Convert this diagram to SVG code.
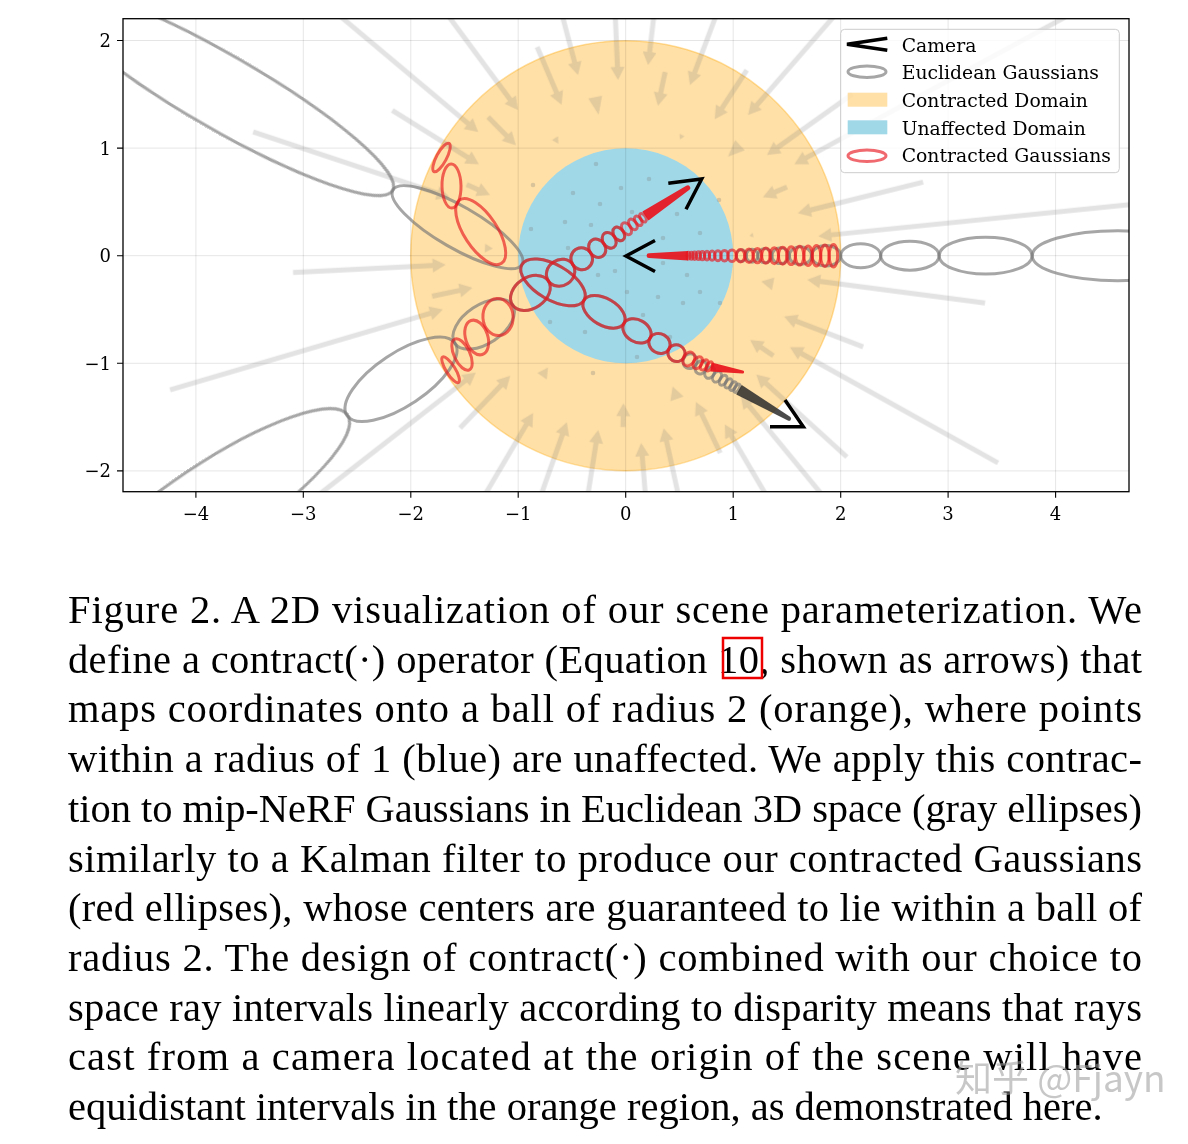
<svg xmlns="http://www.w3.org/2000/svg" width="1188" height="1144" viewBox="0 0 1188 1144">
<style>
.g{fill:none;stroke:#737373;stroke-opacity:.64;stroke-width:3}
.r{fill:none;stroke:#e8141c;stroke-opacity:.64;stroke-width:3}
.tk{font-family:"DejaVu Serif",serif;font-size:18px;fill:#000}
.lg{font-family:"DejaVu Serif",serif;font-size:18.8px;fill:#000}
.cap{font-family:"Liberation Serif","Times New Roman",serif;font-size:40.5px;fill:#000}
.grid line{stroke:#000;stroke-opacity:.1;stroke-width:1}
.cam{fill:none;stroke:#000;stroke-width:3.5;stroke-linejoin:miter}
.ar line{stroke:#808080;stroke-width:5;marker-end:url(#ah)}
</style>
<defs>
<clipPath id="ax"><rect x="123" y="18.7" width="1006" height="473"/></clipPath>
<marker id="ah" markerUnits="userSpaceOnUse" markerWidth="20" markerHeight="20" viewBox="0 -10 20 20" refX="5" refY="0" orient="auto" overflow="visible"><path d="M0,-7 L13,0 L0,7Z" fill="#808080"/></marker>
</defs>
<rect width="1188" height="1144" fill="#fff"/>
<g id="plot" clip-path="url(#ax)">
<g id="domains">
<circle cx="625.7" cy="255.7" r="215" fill="orange" fill-opacity=".35" stroke="orange" stroke-opacity=".35" stroke-width="1.5"/>
<circle cx="625.7" cy="255.7" r="107.5" fill="#A0D8E8"/>
</g>
<g class="grid">
<line x1="195.9" y1="18" x2="195.9" y2="492"/><line x1="303.3" y1="18" x2="303.3" y2="492"/><line x1="410.8" y1="18" x2="410.8" y2="492"/><line x1="518.2" y1="18" x2="518.2" y2="492"/><line x1="625.7" y1="18" x2="625.7" y2="492"/><line x1="733.2" y1="18" x2="733.2" y2="492"/><line x1="840.7" y1="18" x2="840.7" y2="492"/><line x1="948.1" y1="18" x2="948.1" y2="492"/><line x1="1055.6" y1="18" x2="1055.6" y2="492"/>
<line x1="123" y1="40.5" x2="1129" y2="40.5"/><line x1="123" y1="148.1" x2="1129" y2="148.1"/><line x1="123" y1="255.7" x2="1129" y2="255.7"/><line x1="123" y1="363.3" x2="1129" y2="363.3"/><line x1="123" y1="470.9" x2="1129" y2="470.9"/>
</g>
<g id="arrows" class="ar" transform="translate(625.7,255.7)" opacity="0.22" fill="#808080">
<line x1="516" y1="0" x2="200.6" y2="0" transform="rotate(-140)"/>
<line x1="342" y1="0" x2="189.2" y2="0" transform="rotate(-126.5)"/>
<line x1="226.8" y1="0" x2="172.1" y2="0" transform="rotate(-113)"/>
<line x1="411" y1="0" x2="194.9" y2="0" transform="rotate(-104.8)"/>
<line x1="295.5" y1="0" x2="183.9" y2="0" transform="rotate(-92.5)"/>
<line x1="502" y1="0" x2="200" y2="0" transform="rotate(-83.3)"/>
<line x1="354.5" y1="0" x2="190.4" y2="0" transform="rotate(-69.4)"/>
<line x1="187.9" y1="0" x2="161.5" y2="0" transform="rotate(-77.9)"/>
<line x1="195.4" y1="0" x2="163.9" y2="0" transform="rotate(-134.8)"/>
<line x1="221.6" y1="0" x2="170.9" y2="0" transform="rotate(-56.9)"/>
<line x1="404" y1="0" x2="194.4" y2="0" transform="rotate(-49)"/>
<line x1="278.5" y1="0" x2="181.5" y2="0" transform="rotate(-35.5)"/>
<line x1="275" y1="0" x2="181" y2="0" transform="rotate(-148.1)"/>
<line x1="500" y1="0" x2="199.9" y2="0" transform="rotate(-28.5)"/>
<line x1="392.7" y1="0" x2="193.6" y2="0" transform="rotate(-161.6)"/>
<line x1="333.1" y1="0" x2="188.3" y2="0" transform="rotate(177.1)"/>
<line x1="475" y1="0" x2="198.7" y2="0" transform="rotate(163.6)"/>
<line x1="462" y1="0" x2="198" y2="0" transform="rotate(142.1)"/>
<line x1="197.8" y1="0" x2="164.6" y2="0" transform="rotate(168.2)"/>
<line x1="174.3" y1="0" x2="156.7" y2="0" transform="rotate(-155.9)"/>
<line x1="239" y1="0" x2="174.6" y2="0" transform="rotate(133.9)"/>
<line x1="356.7" y1="0" x2="190.6" y2="0" transform="rotate(120.5)"/>
<line x1="300" y1="0" x2="184.5" y2="0" transform="rotate(109.5)"/>
<line x1="300" y1="0" x2="184.5" y2="0" transform="rotate(99)"/>
<line x1="171.3" y1="0" x2="155.5" y2="0" transform="rotate(90.9)"/>
<line x1="428" y1="0" x2="196" y2="0" transform="rotate(85.3)"/>
<line x1="300" y1="0" x2="184.5" y2="0" transform="rotate(77.6)"/>
<line x1="540" y1="0" x2="201.6" y2="0" transform="rotate(-5.8)"/>
<line x1="306.3" y1="0" x2="185.3" y2="0" transform="rotate(-13.9)"/>
<line x1="362.4" y1="0" x2="191.1" y2="0" transform="rotate(7.5)"/>
<line x1="254.3" y1="0" x2="177.6" y2="0" transform="rotate(21)"/>
<line x1="426" y1="0" x2="195.9" y2="0" transform="rotate(29.1)"/>
<line x1="299" y1="0" x2="184.4" y2="0" transform="rotate(42.3)"/>
<line x1="340" y1="0" x2="189" y2="0" transform="rotate(50.6)"/>
<line x1="600" y1="0" x2="203.7" y2="0" transform="rotate(59.6)"/>
<line x1="218.7" y1="0" x2="170.2" y2="0" transform="rotate(64.4)"/>
<line x1="175.3" y1="0" x2="157.1" y2="0" transform="rotate(-23.1)"/>
<line x1="178.3" y1="0" x2="158.2" y2="0" transform="rotate(34.1)"/>
<path d="M161.6,-7 L143.5,0 L161.6,7Z" transform="rotate(-100.9)"/>
<path d="M159,-7 L142.3,0 L159,7Z" transform="rotate(-44.1)"/>
<path d="M137.3,-3.6 L130.8,0 L137.3,3.6Z" transform="rotate(-121)"/>
<path d="M133.2,-2.8 L128.2,0 L133.2,2.8Z" transform="rotate(-65)"/>
<path d="M141,-4.4 L133,0 L141,4.4Z" transform="rotate(-176.9)"/>
<path d="M146.6,-5.7 L136.2,0 L146.6,5.7Z" transform="rotate(124.8)"/>
<path d="M129,-2.5 L125.4,0 L129,2.5Z" transform="rotate(-9.2)"/>
<path d="M150,-6.5 L138,0 L150,6.5Z" transform="rotate(10.8)"/>
<path d="M152,-7 L139,0 L152,7Z" transform="rotate(70.3)"/>
</g>
<g id="dots" fill="#808080" opacity="0.3">
<circle cx="593" cy="373" r="2.3"/><circle cx="533" cy="185" r="2.3"/>
<circle cx="596" cy="164" r="2.3"/><circle cx="573" cy="193" r="2.3"/><circle cx="621" cy="188" r="2.3"/><circle cx="649" cy="179" r="2.3"/><circle cx="600" cy="204" r="2.3"/><circle cx="565" cy="222" r="2.3"/><circle cx="591" cy="225" r="2.3"/><circle cx="531" cy="229" r="2.3"/><circle cx="632" cy="212" r="2.3"/><circle cx="663" cy="238" r="2.3"/><circle cx="677" cy="214" r="2.3"/><circle cx="700" cy="233" r="2.3"/><circle cx="719" cy="200" r="2.3"/><circle cx="568" cy="248" r="2.3"/><circle cx="627" cy="292" r="2.3"/><circle cx="598" cy="275" r="2.3"/><circle cx="615" cy="271" r="2.3"/><circle cx="550" cy="322" r="2.3"/><circle cx="585" cy="332" r="2.3"/><circle cx="643" cy="315" r="2.3"/><circle cx="658" cy="297" r="2.3"/><circle cx="683" cy="303" r="2.3"/><circle cx="720" cy="303" r="2.3"/><circle cx="637" cy="357" r="2.3"/><circle cx="687" cy="275" r="2.3"/><circle cx="670" cy="337" r="2.3"/><circle cx="663" cy="263" r="2.3"/><circle cx="700" cy="292" r="2.3"/>
</g>
<g id="euclidean-gaussians">
<ellipse class="g" cx="860.7" cy="255.7" rx="20" ry="12"/>
<ellipse class="g" cx="909.9" cy="255.7" rx="29.2" ry="14.5"/>
<ellipse class="g" cx="985.6" cy="255.7" rx="46.5" ry="18.4"/>
<ellipse class="g" cx="1117.9" cy="255.7" rx="85.7" ry="25"/>
<ellipse class="g" cx="826.1" cy="255.7" rx="14.6" ry="10.3"/>
<ellipse class="g" cx="800.4" cy="255.7" rx="11.1" ry="8.9"/>
<ellipse class="g" cx="780.6" cy="255.7" rx="8.7" ry="7.9"/>
<ellipse class="g" cx="764.9" cy="255.7" rx="7.05" ry="7.1"/>
<ellipse class="g" cx="752" cy="255.7" rx="5.8" ry="6.5"/>
<ellipse class="g" cx="741.3" cy="255.7" rx="4.9" ry="5.9"/>
<ellipse class="g" cx="210.3" cy="506.7" rx="165" ry="42" transform="rotate(-33.7 210.3 506.7)"/>
<ellipse class="g" cx="401" cy="379.3" rx="64.9" ry="26.3" transform="rotate(-33.7 401 379.3)"/>
<ellipse class="g" cx="483.7" cy="324.1" rx="34.6" ry="19.3" transform="rotate(-33.7 483.7 324.1)"/>
<ellipse class="g" cx="530.4" cy="292.9" rx="21.55" ry="15.4" transform="rotate(-33.7 530.4 292.9)"/>
<ellipse class="g" cx="560.6" cy="272.7" rx="14.7" ry="12.9" transform="rotate(-33.7 560.6 272.7)"/>
<ellipse class="g" cx="581.7" cy="258.7" rx="10.7" ry="11.1" transform="rotate(-33.7 581.7 258.7)"/>
<ellipse class="g" cx="597.2" cy="248.3" rx="8.1" ry="9.6" transform="rotate(-33.7 597.2 248.3)"/>
<ellipse class="g" cx="609.2" cy="240.3" rx="6.3" ry="8.4" transform="rotate(-33.7 609.2 240.3)"/>
<ellipse class="g" cx="618.8" cy="233.9" rx="5.1" ry="7.4" transform="rotate(-33.7 618.8 233.9)"/>
<ellipse class="g" cx="222" cy="92" rx="197" ry="37" transform="rotate(30 222 92)"/>
<ellipse class="g" cx="457.5" cy="227.2" rx="74.5" ry="21" transform="rotate(30 457.5 227.2)"/>
<ellipse class="g" cx="553" cy="282.4" rx="35.8" ry="17.5" transform="rotate(30 553 282.4)"/>
<ellipse class="g" cx="604" cy="311.8" rx="23.1" ry="13.4" transform="rotate(30 604 311.8)"/>
<ellipse class="g" cx="637" cy="330.9" rx="15" ry="11" transform="rotate(30 637 330.9)"/>
<ellipse class="g" cx="659.5" cy="343.4" rx="11" ry="9.6" transform="rotate(30 659.5 343.4)"/>
<ellipse class="g" cx="676.5" cy="353.2" rx="8.7" ry="8.3" transform="rotate(30 676.5 353.2)"/>
<ellipse class="g" cx="690" cy="361.2" rx="6.9" ry="7.5" transform="rotate(30 690 361.2)"/>
<ellipse class="g" cx="700.9" cy="367.4" rx="5.6" ry="6.8" transform="rotate(30 700.9 367.4)"/>
<ellipse class="g" cx="709.7" cy="372.5" rx="4.6" ry="6.2" transform="rotate(30 709.7 372.5)"/>
<ellipse class="g" cx="717" cy="376.7" rx="3.9" ry="5.8" transform="rotate(30 717 376.7)"/>
<ellipse class="g" cx="723.2" cy="380.3" rx="3.2" ry="5.4" transform="rotate(30 723.2 380.3)"/>
<ellipse class="g" cx="728.5" cy="383.4" rx="2.9" ry="5.1" transform="rotate(30 728.5 383.4)"/>
<ellipse class="g" cx="733.1" cy="386.1" rx="2.4" ry="4.8" transform="rotate(30 733.1 386.1)"/>
<ellipse class="g" cx="737" cy="388.3" rx="2.1" ry="4.6" transform="rotate(30 737 388.3)"/>
<path d="M741.75,385 L790.1,416.7 A2.2,2.2 0 0 1 787.9,420.5 L736.25,394.6 Z" fill="#2b2b2b" fill-opacity=".85"/>
</g>
<g id="contracted-gaussians">
<ellipse class="r" cx="833.4" cy="255.7" rx="4.2" ry="11.2"/>
<ellipse class="r" cx="824.9" cy="255.7" rx="4.2" ry="10.7"/>
<ellipse class="r" cx="816.5" cy="255.7" rx="4.2" ry="10.3"/>
<ellipse class="r" cx="808.1" cy="255.7" rx="4.2" ry="9.8"/>
<ellipse class="r" cx="799.6" cy="255.7" rx="4.2" ry="9.4"/>
<ellipse class="r" cx="791.2" cy="255.7" rx="4.2" ry="8.9"/>
<ellipse class="r" cx="782.7" cy="255.7" rx="4.2" ry="8.5"/>
<ellipse class="r" cx="774.3" cy="255.7" rx="4.2" ry="8"/>
<ellipse class="r" cx="765.9" cy="255.7" rx="4.2" ry="7.6"/>
<ellipse class="r" cx="757.4" cy="255.7" rx="4.2" ry="7.1"/>
<ellipse class="r" cx="749" cy="255.7" rx="4.2" ry="6.7"/>
<ellipse class="r" cx="740.5" cy="255.7" rx="4.2" ry="6.2"/>
<ellipse class="r" cx="732" cy="255.7" rx="4.1" ry="5.8"/>
<ellipse class="r" cx="724.5" cy="255.7" rx="3.56" ry="5.3"/>
<ellipse class="r" cx="717.9" cy="255.7" rx="3.1" ry="5"/>
<ellipse class="r" cx="712.1" cy="255.7" rx="2.7" ry="4.66"/>
<ellipse class="r" cx="707" cy="255.7" rx="2.4" ry="4.4"/>
<ellipse class="r" cx="702.4" cy="255.7" rx="2.15" ry="4.14"/>
<ellipse class="r" cx="698.4" cy="255.7" rx="1.9" ry="3.9"/>
<ellipse class="r" cx="694.6" cy="255.7" rx="1.7" ry="3.7"/>
<ellipse class="r" cx="691.4" cy="255.7" rx="1.6" ry="3.5"/>
<ellipse class="r" cx="688.4" cy="255.7" rx="1.4" ry="3.4"/>
<path d="M688,251 L649,253.3 A2.4,2.4 0 0 0 649,258.1 L688,260.4 Z" fill="#e8141c" fill-opacity=".92"/>
<ellipse class="r" cx="530.4" cy="292.9" rx="21.55" ry="15.4" transform="rotate(-33.7 530.4 292.9)"/>
<ellipse class="r" cx="560.6" cy="272.7" rx="14.7" ry="12.9" transform="rotate(-33.7 560.6 272.7)"/>
<ellipse class="r" cx="581.7" cy="258.7" rx="10.7" ry="11.1" transform="rotate(-33.7 581.7 258.7)"/>
<ellipse class="r" cx="597.2" cy="248.3" rx="8.1" ry="9.6" transform="rotate(-33.7 597.2 248.3)"/>
<ellipse class="r" cx="609.2" cy="240.3" rx="6.3" ry="8.4" transform="rotate(-33.7 609.2 240.3)"/>
<ellipse class="r" cx="618.8" cy="233.9" rx="5.1" ry="7.4" transform="rotate(-33.7 618.8 233.9)"/>
<ellipse class="r" cx="626.5" cy="228.7" rx="4.2" ry="6.6" transform="rotate(-33.7 626.5 228.7)"/>
<ellipse class="r" cx="632.9" cy="224.4" rx="3.5" ry="5.9" transform="rotate(-33.7 632.9 224.4)"/>
<ellipse class="r" cx="638.3" cy="220.8" rx="3" ry="5.3" transform="rotate(-33.7 638.3 220.8)"/>
<ellipse class="r" cx="643" cy="217.7" rx="2.6" ry="4.8" transform="rotate(-33.7 643 217.7)"/>
<path d="M642.4,211.4 L686.3,185.8 A2.5,2.5 0 0 1 689.1,190 L648.5,220.6 Z" fill="#e8141c" fill-opacity=".92"/>
<ellipse class="r" cx="498" cy="317" rx="15.1" ry="18.5" transform="rotate(-3.7 498 317)"/>
<ellipse class="r" cx="476.7" cy="337.5" rx="17.9" ry="11.1" transform="rotate(71.7 476.7 337.5)"/>
<ellipse class="r" cx="462" cy="354.5" rx="17" ry="7.9" transform="rotate(64.6 462 354.5)"/>
<ellipse class="r" cx="450.6" cy="369.7" rx="15" ry="4.5" transform="rotate(58 450.6 369.7)"/>
<ellipse class="r" cx="553" cy="282.4" rx="35.8" ry="17.5" transform="rotate(30 553 282.4)"/>
<ellipse class="r" cx="604" cy="311.8" rx="23.1" ry="13.4" transform="rotate(30 604 311.8)"/>
<ellipse class="r" cx="637" cy="330.9" rx="15" ry="11" transform="rotate(30 637 330.9)"/>
<ellipse class="r" cx="659.5" cy="343.4" rx="11" ry="9.6" transform="rotate(30 659.5 343.4)"/>
<ellipse class="r" cx="676.5" cy="353.2" rx="8.7" ry="8.3" transform="rotate(30 676.5 353.2)"/>
<ellipse class="r" cx="688.8" cy="359" rx="5.6" ry="7.3" transform="rotate(30 688.8 359)"/>
<ellipse class="r" cx="697.8" cy="362.7" rx="4.2" ry="6.4" transform="rotate(30 697.8 362.7)"/>
<ellipse class="r" cx="704.3" cy="364.9" rx="3.2" ry="5.6" transform="rotate(30 704.3 364.9)"/>
<ellipse class="r" cx="709.3" cy="366.4" rx="2.6" ry="5" transform="rotate(30 709.3 366.4)"/>
<path d="M711.7,362.6 L742.8,370.5 A1.5,1.5 0 0 1 742.4,373.5 L710.3,371.4 Z" fill="#e8141c" fill-opacity=".92"/>
<ellipse class="r" cx="480.7" cy="231.6" rx="38" ry="16.5" transform="rotate(56.7 480.7 231.6)"/>
<ellipse class="r" cx="451.5" cy="186" rx="22.1" ry="9.5" transform="rotate(89 451.5 186)"/>
<ellipse class="r" cx="441.5" cy="157.5" rx="16" ry="5" transform="rotate(-62 441.5 157.5)"/>
</g>
<g id="cameras" class="cam">
<polyline points="655,240.5 626,256 655,271.5"/>
<polyline points="668.3,183.3 701.7,179 686,209.3"/>
<polyline points="770,426.7 803.3,426.7 785,400"/>
</g>
</g>
<g id="axes" fill="none" stroke="#000">
<rect x="123" y="18.7" width="1006" height="473" stroke-width="1.3"/>
<path stroke-width="1.1" d="M195.9,491.7v6M303.3,491.7v6M410.8,491.7v6M518.2,491.7v6M625.7,491.7v6M733.2,491.7v6M840.7,491.7v6M948.1,491.7v6M1055.6,491.7v6M123,40.5h-6M123,148.1h-6M123,255.7h-6M123,363.3h-6M123,470.9h-6"/>
</g>
<g id="ticklabels" class="tk">
<text x="111" y="47" text-anchor="end">2</text>
<text x="111" y="154.6" text-anchor="end">1</text>
<text x="111" y="262.2" text-anchor="end">0</text>
<text x="111" y="369.8" text-anchor="end">−1</text>
<text x="111" y="477.4" text-anchor="end">−2</text>
<g text-anchor="middle">
<text x="195.9" y="520">−4</text><text x="303.3" y="520">−3</text><text x="410.8" y="520">−2</text><text x="518.2" y="520">−1</text><text x="625.7" y="520">0</text><text x="733.2" y="520">1</text><text x="840.7" y="520">2</text><text x="948.1" y="520">3</text><text x="1055.6" y="520">4</text>
</g>
</g>
<g id="legend">
<rect x="840.7" y="29.3" width="278.6" height="143.4" rx="4" fill="#fff" fill-opacity=".8" stroke="#ccc" stroke-width="1"/>
<polyline class="cam" points="887.3,38.3 847,44.3 887.3,50.3"/>
<ellipse class="g" cx="867" cy="71.7" rx="19" ry="5.75"/>
<rect x="847.7" y="92.7" width="39.6" height="14" fill="orange" fill-opacity=".35"/>
<rect x="847.7" y="120.3" width="39.6" height="14" fill="#A0D8E8"/>
<ellipse class="r" cx="867" cy="155.8" rx="19" ry="5.75"/>
<g class="lg">
<text x="901.7" y="51.5">Camera</text>
<text x="901.7" y="79.3">Euclidean Gaussians</text>
<text x="901.7" y="106.9">Contracted Domain</text>
<text x="901.7" y="134.5">Unaffected Domain</text>
<text x="901.7" y="162.2">Contracted Gaussians</text>
</g>
</g>
<g id="caption" class="cap">
<text x="68" y="623" textLength="1074" lengthAdjust="spacing">Figure 2.  A 2D visualization of our scene parameterization.  We</text>
<text x="68" y="672.7" textLength="1074" lengthAdjust="spacing">define a contract(·) operator (Equation 10, shown as arrows) that</text>
<text x="68" y="722.4" textLength="1074" lengthAdjust="spacing">maps coordinates onto a ball of radius 2 (orange), where points</text>
<text x="68" y="772.1" textLength="1074" lengthAdjust="spacing">within a radius of 1 (blue) are unaffected.  We apply this contrac-</text>
<text x="68" y="821.8" textLength="1074" lengthAdjust="spacing">tion to mip-NeRF Gaussians in Euclidean 3D space (gray ellipses)</text>
<text x="68" y="871.5" textLength="1074" lengthAdjust="spacing">similarly to a Kalman filter to produce our contracted Gaussians</text>
<text x="68" y="921.2" textLength="1074" lengthAdjust="spacing">(red ellipses), whose centers are guaranteed to lie within a ball of</text>
<text x="68" y="970.9" textLength="1074" lengthAdjust="spacing">radius 2. The design of contract(·) combined with our choice to</text>
<text x="68" y="1020.6" textLength="1074" lengthAdjust="spacing">space ray intervals linearly according to disparity means that rays</text>
<text x="68" y="1070.3" textLength="1074" lengthAdjust="spacing">cast from a camera located at the origin of the scene will have</text>
<text x="68" y="1120">equidistant intervals in the orange region, as demonstrated here.</text>
</g>
<rect id="eqref-box" x="723" y="638" width="39" height="40" fill="none" stroke="#e00" stroke-width="2.5"/>
<text id="watermark" x="955" y="1092" font-family="'Noto Sans CJK SC','Noto Sans',sans-serif" font-size="37" fill="#999" fill-opacity=".55">知乎 @Fjayn</text>
</svg>
